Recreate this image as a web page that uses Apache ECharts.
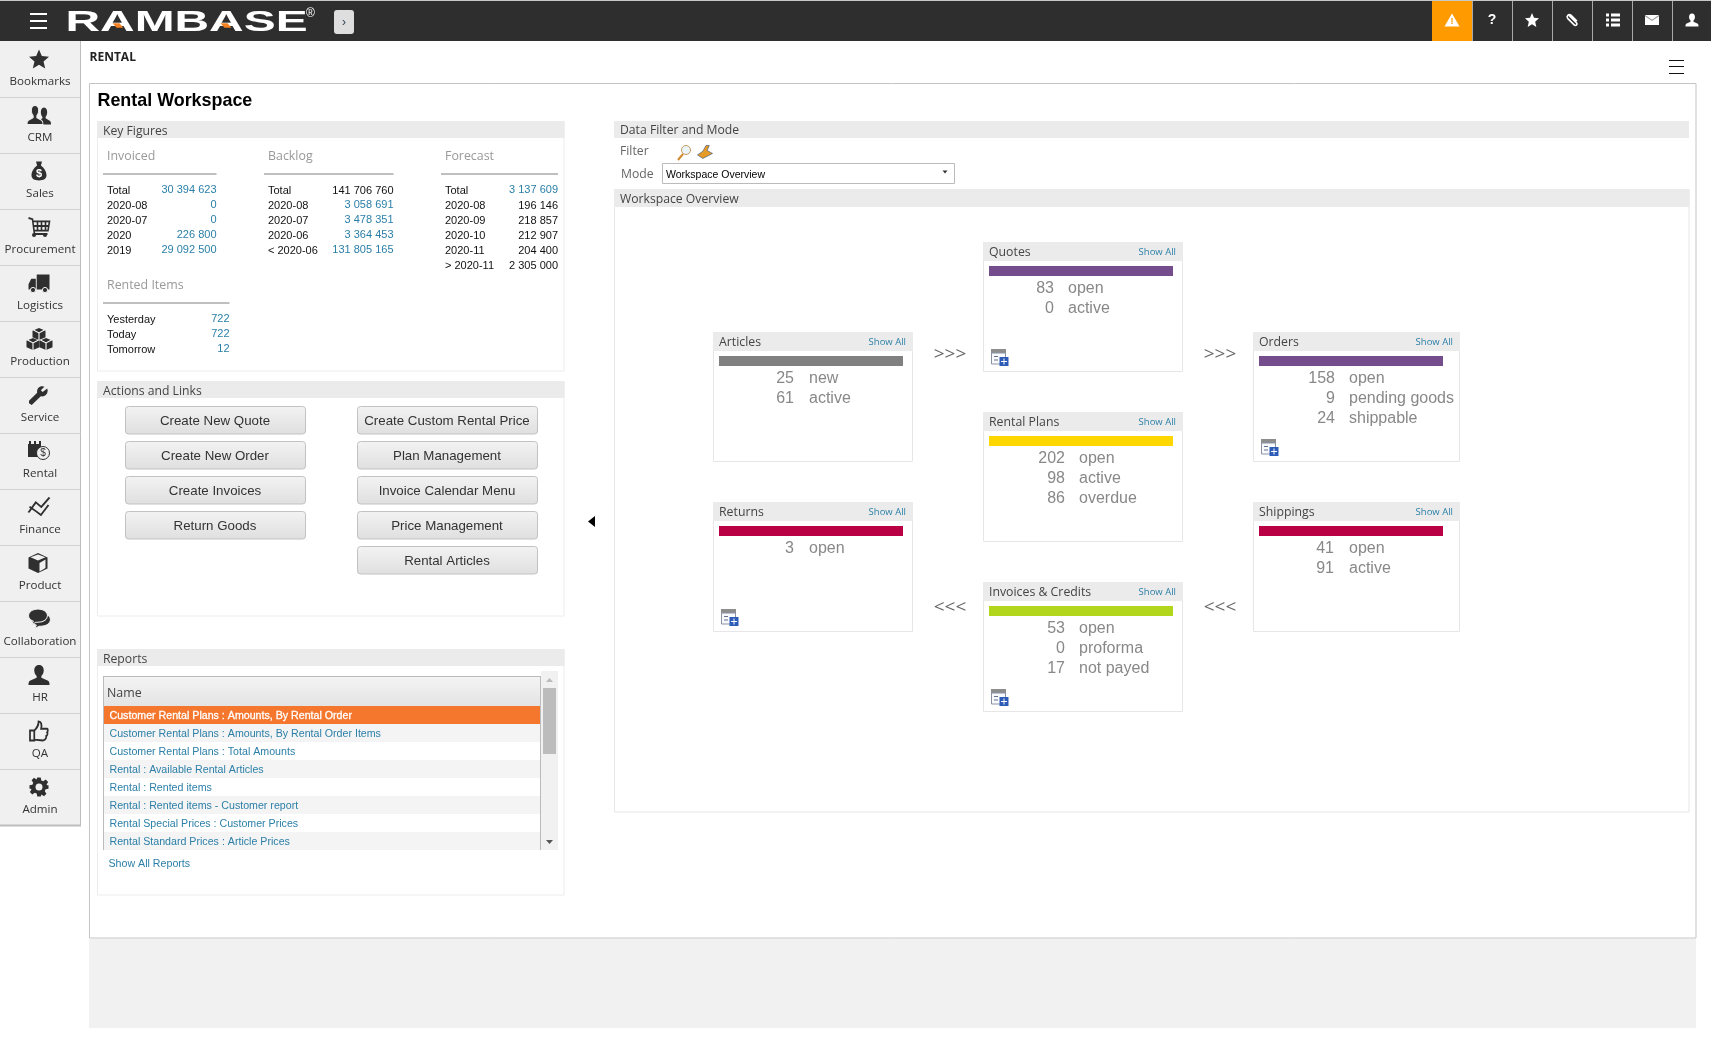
<!DOCTYPE html>
<html>
<head>
<meta charset="utf-8">
<title>Rental Workspace</title>
<script src="https://cdn.jsdelivr.net/npm/echarts@6/dist/echarts.min.js"></script>
<style>
html, body { margin: 0; padding: 0; background: #fff; }
#main { width: 1711px; height: 1056px; }
</style>
</head>
<body>
<div id="main"></div>
<script>
// key figures
const invoicedLabels = ['Total', '2020-08', '2020-07', '2020', '2019'];
const invoicedValues = ['30 394 623', '0', '0', '226 800', '29 092 500'];
const backlogLabels = ['Total', '2020-08', '2020-07', '2020-06', '< 2020-06'];
const backlogValues = ['141 706 760', '3 058 691', '3 478 351', '3 364 453', '131 805 165'];
const forecastLabels = ['Total', '2020-08', '2020-09', '2020-10', '2020-11', '> 2020-11'];
const forecastValues = ['3 137 609', '196 146', '218 857', '212 907', '204 400', '2 305 000'];
const rentedLabels = ['Yesterday', 'Today', 'Tomorrow'];
const rentedValues = ['722', '722', '12'];

// menus
const sidebarItems = ['Bookmarks', 'CRM', 'Sales', 'Procurement', 'Logistics', 'Production', 'Service',
	'Rental', 'Finance', 'Product', 'Collaboration', 'HR', 'QA', 'Admin'];
const actionsLeft = ['Create New Quote', 'Create New Order', 'Create Invoices', 'Return Goods'];
const actionsRight = ['Create Custom Rental Price', 'Plan Management', 'Invoice Calendar Menu', 'Price Management', 'Rental Articles'];
const reportNames = ['Customer Rental Plans : Amounts, By Rental Order', 'Customer Rental Plans : Amounts, By Rental Order Items',
	'Customer Rental Plans : Total Amounts', 'Rental : Available Rental Articles', 'Rental : Rented items',
	'Rental : Rented items - Customer report', 'Rental Special Prices : Customer Prices', 'Rental Standard Prices : Article Prices'];

// workspace overview cards
const cardNames = ['Articles', 'Quotes', 'Orders', 'Rental Plans', 'Returns', 'Shippings', 'Invoices & Credits'];
const cardFill = [1, 1, 1, 1, 1, 1, 1];
const articlesCounts = [25, 61];
const articlesStates = ['new', 'active'];
const quotesCounts = [83, 0];
const quotesStates = ['open', 'active'];
const ordersCounts = [158, 9, 24];
const ordersStates = ['open', 'pending goods', 'shippable'];
const plansCounts = [202, 98, 86];
const plansStates = ['open', 'active', 'overdue'];
const returnsCounts = [3];
const returnsStates = ['open'];
const shippingsCounts = [41, 91];
const shippingsStates = ['open', 'active'];
const invoicesCounts = [53, 0, 17];
const invoicesStates = ['open', 'proforma', 'not payed'];

const LINK = '#2b7fa8';
const SANS = '"Open Sans"';
const ARIAL = '"Liberation Sans"';

const els = [];
const shapeNames = {};

function box(x, y, w, h, fill, stroke, r) {
	els.push({ type: 'rect', silent: true, shape: { x: x, y: y, width: w, height: h, r: r || 0 },
		style: { fill: fill || 'none', stroke: stroke || null, lineWidth: 1 } });
}
function label(x, y, text, font, fill, align) {
	els.push({ type: 'text', silent: true, x: x, y: y + 1.2,
		style: { text: text, font: font, fill: fill, align: align || 'left', verticalAlign: 'middle' } });
}
function line(x1, y1, x2, y2, color, w) {
	els.push({ type: 'line', silent: true, shape: { x1: x1, y1: y1, x2: x2, y2: y2 },
		style: { stroke: color, lineWidth: w || 1 } });
}
// the graphic component has no path type, so each icon outline is registered as a shape
function glyph(path, cx, cy, w, h, fill, stroke, lw) {
	if (!shapeNames[path]) {
		shapeNames[path] = 'icon' + Object.keys(shapeNames).length;
		echarts.graphic.registerShape(shapeNames[path], echarts.graphic.extendPath(path, {}));
	}
	const nums = path.match(/-?[\d.]+/g).map(Number);
	const xs = nums.filter(function (n, i) { return i % 2 === 0; });
	const ys = nums.filter(function (n, i) { return i % 2 === 1; });
	const minX = Math.min.apply(null, xs), minY = Math.min.apply(null, ys);
	const sx = w / (Math.max.apply(null, xs) - minX);
	const sy = h / (Math.max.apply(null, ys) - minY);
	els.push({ type: shapeNames[path], silent: true, x: cx - w / 2 - minX * sx, y: cy - h / 2 - minY * sy, scaleX: sx, scaleY: sy,
		style: { fill: fill || 'none', stroke: stroke || null, lineWidth: lw || 1, strokeNoScale: true } });
}
function dot(cx, cy, r, fill, stroke) {
	els.push({ type: 'circle', silent: true, shape: { cx: cx, cy: cy, r: r },
		style: { fill: fill, stroke: stroke || null, lineWidth: 1 } });
}

const STAR = 'M12 1 L15.1 8.3 L23 9 L17 14.2 L18.8 22 L12 17.9 L5.2 22 L7 14.2 L1 9 L8.9 8.3 Z';
const PERSON = 'M12 1 C15.5 1 17 4 17 7 C17 10 15.5 12 14.5 13 L14.5 15 L21 18 C23 19 23 21 23 23 L1 23 C1 21 1 19 3 18 L9.5 15 L9.5 13 C8.5 12 7 10 7 7 C7 4 8.5 1 12 1 Z';
const BAG = 'M8 1 L16 1 L14.5 5.5 C19 8 22 13 22 17 C22 21 18 23 12 23 C6 23 2 21 2 17 C2 13 5 8 9.5 5.5 Z';
const GEAR = 'M10 1 L14 1 L14.7 4.4 L16.9 5.3 L19.8 3.4 L22.6 6.2 L20.7 9.1 L21.6 10 L23 10 L23 14 L19.6 14.7 L18.7 16.9 L20.6 19.8 L17.8 22.6 L14.9 20.7 L14 23 L10 23 L9.3 19.6 L7.1 18.7 L4.2 20.6 L1.4 17.8 L3.3 14.9 L2.4 14 L1 14 L1 10 L4.4 9.3 L5.3 7.1 L3.4 4.2 L6.2 1.4 L9.1 3.3 Z';
const HEX = 'M12 1 L22 6 L22 18 L12 23 L2 18 L2 6 Z';
const THUMB = 'M2 11 L7 11 L7 22 L2 22 Z M7 11 C10 8 12 6 12 1 C15 1 16 4 15 9 L22 9 C23 9 23 12 22 13 C23 14 22 17 21 17 C21 19 20 21 19 21 C19 22 18 22 17 22 L7 21';
const BUBBLE = 'M10 2 C16 2 20 5 20 9 C20 13 16 16 10 16 L8 16 L3 19 L5 15 C2 14 0 12 0 9 C0 5 4 2 10 2 Z';
const WRENCH = 'M21 4 L16 8 L14 6 L18 2 C14 0 9 3 10 9 L1 18 L1 21 L4 23 L14 13 C19 14 23 9 21 4 Z';
const CUBE_EDGES = 'M2 6 L12 11 L22 6 M12 11 L12 23';
const LOGO_WEDGE = 'M0 0 L7 0 L11 5 L4 5 Z';

function sidebarIcon(i, cx, cy) {
	const dark = '#2f2f2f';
	switch (sidebarItems[i]) {
		case 'Bookmarks': glyph(STAR, cx, cy, 20, 19, dark); break;
		case 'CRM':
			glyph(PERSON, cx + 5, cy + 1, 14, 17, dark);
			glyph(PERSON, cx - 4, cy, 16, 19, dark, '#f0f0f0', 1);
			break;
		case 'Sales':
			glyph(BAG, cx, cy, 15, 19, dark);
			label(cx, cy + 1.5, '$', 'bold 11px ' + ARIAL, '#fff', 'center');
			break;
		case 'Procurement':
			glyph('M1 2 L5 3 L7 16 L20 16 M6 5 L22 5 L20.5 13 L7 13 M10 5 L10 13 M14 5 L14 13 M18 5 L18 13 M6.5 9 L21.5 9', cx, cy - 1, 21, 16, 'none', dark, 1.6);
			dot(cx - 5, cy + 8, 2, dark);
			dot(cx + 6, cy + 8, 2, dark);
			break;
		case 'Logistics':
			glyph('M9 3 L23 3 L23 17 L9 17 Z M8 7 L3 7 L0 12 L0 17 L8 17 Z', cx, cy - 1, 21, 15, dark);
			dot(cx - 6, cy + 7, 2.6, dark, '#f0f0f0');
			dot(cx + 6, cy + 7, 2.6, dark, '#f0f0f0');
			break;
		case 'Production':
			glyph(HEX, cx, cy - 5, 13, 12, dark);
			glyph(HEX, cx - 6, cy + 5, 13, 12, dark);
			glyph(HEX, cx + 7, cy + 5, 13, 12, dark);
			glyph(CUBE_EDGES, cx, cy - 4, 11, 10, 'none', '#fff', 1.1);
			glyph(CUBE_EDGES, cx - 6, cy + 6, 11, 10, 'none', '#fff', 1.1);
			glyph(CUBE_EDGES, cx + 7, cy + 6, 11, 10, 'none', '#fff', 1.1);
			break;
		case 'Service': glyph(WRENCH, cx, cy, 20, 20, dark); break;
		case 'Rental':
			box(cx - 11, cy - 7, 13, 13, dark);
			box(cx - 10, cy - 10, 2, 3, dark);
			box(cx - 5, cy - 10, 2, 3, dark);
			box(cx, cy - 10, 2, 3, dark);
			dot(cx + 4, cy + 2, 6.5, '#f0f0f0', dark);
			label(cx + 4, cy + 1.5, '$', '10px ' + ARIAL, dark, 'center');
			break;
		case 'Finance':
			glyph('M0 23 L8 8 L14 15 L23 1', cx, cy - 2, 21, 15, 'none', dark, 1.8);
			glyph('M3 12 L10 17 L15 21 L23 10', cx, cy + 3, 19, 10, 'none', dark, 1.8);
			break;
		case 'Product':
			glyph(HEX, cx - 1, cy, 19, 20, dark);
			glyph('M2 6 L12 11 L22 6 L12 2 Z', cx - 1, cy - 5.5, 15, 6, '#f0f0f0');
			glyph('M12 11 L22 6 L22 18 L12 23 Z', cx + 3.5, cy + 2.5, 6, 12, '#f0f0f0');
			break;
		case 'Collaboration':
			glyph(BUBBLE, cx + 2, cy + 2, 19, 16, dark, '#f0f0f0', 1);
			glyph(BUBBLE, cx - 1, cy - 2, 19, 16, dark, '#f0f0f0', 1);
			break;
		case 'HR': glyph(PERSON, cx, cy, 21, 20, dark); break;
		case 'QA': glyph(THUMB, cx, cy, 18, 19, 'none', dark, 1.8); break;
		case 'Admin':
			glyph(GEAR, cx, cy, 19, 19, dark);
			dot(cx, cy, 3.5, '#f0f0f0');
			break;
	}
}

function docIcon(x, y) {
	box(x, y, 15, 4, '#8d8d8d');
	box(x + 0.5, y + 4, 14, 11, '#f7f9fc', '#8a93a5');
	line(x + 3, y + 7.5, x + 7, y + 7.5, '#66708a');
	line(x + 3, y + 11, x + 7, y + 11, '#66708a');
	box(x + 8.5, y + 8, 9, 9, '#2c5cb8');
	line(x + 13, y + 9.5, x + 13, y + 15.5, '#fff');
	line(x + 10, y + 12.5, x + 16, y + 12.5, '#fff');
}

function panelHead(x, y, w, text, bottom) {
	box(x + 0.5, y + 0.5, w, bottom - y, '#fff', '#ececec');
	box(x, y, w + 1, 17, '#ebebeb');
	label(x + 6, y + 9, text, '12.2px ' + SANS, '#444');
}

function figures(title, labels, values, linkRow, left, titleX, right, top) {
	label(titleX, top, title, '12.4px ' + SANS, '#999');
	line(left, top + 19, right, top + 19, '#aaa', 1.4);
	labels.forEach(function (t, i) {
		const y = top + 35 + i * 15;
		label(titleX, y, t, '11px ' + ARIAL, '#111');
		if (linkRow(i)) label(right, y - 1, values[i], '11px ' + ARIAL, LINK, 'right');
		else label(right, y, values[i], '11px ' + ARIAL, '#111', 'right');
	});
}

// page chrome
box(0, 0, 1711, 41, '#2e2e2e');
box(0, 0, 1711, 1, '#c8c8c8');
[14, 21, 28].forEach(function (y) { line(30, y, 47, y, '#fff', 2); });
els.push({ type: 'text', silent: true, x: 65.5, y: 22.5, scaleX: 1.71, scaleY: 1.05,
	style: { text: 'RAMBASE', font: 'bold 28px ' + ARIAL, fill: '#fff', align: 'left', verticalAlign: 'middle' } });
glyph(LOGO_WEDGE, 118, 25.5, 10.6, 4.4, '#f58220');
glyph(LOGO_WEDGE, 226, 25.5, 11, 4.4, '#f58220');
label(306, 12, '®', '12px ' + ARIAL, '#fff');
box(334, 10, 20, 24, '#dedede', null, 3);
label(344, 21, '›', '12px ' + ARIAL, '#345', 'center');

box(1432, 1, 40, 40, '#ff9a00');
[1472, 1512, 1552, 1592, 1632, 1672].forEach(function (x) { line(x + 0.5, 1, x + 0.5, 41, '#a9a9a9'); });
glyph('M12 2 L23 22 L1 22 Z', 1452, 20, 15, 13, '#fff');
label(1452, 20, '!', 'bold 9px ' + ARIAL, '#ff9a00', 'center');
label(1492, 19, '?', 'bold 14px ' + ARIAL, '#fff', 'center');
glyph(STAR, 1532, 20, 14, 14, '#fff');
glyph('M6 4 L19 17 C22 20 18 24 15 21 L3 9 C0 5 5 0 9 3 L20 14', 1572, 20, 12, 13, 'none', '#fff', 1.6);
[15, 20, 25].forEach(function (y) {
	box(1606, y - 1.5, 3, 3, '#fff');
	box(1611, y - 1.5, 9, 3, '#fff');
});
box(1645, 15, 14, 10, '#fff');
glyph('M0 0 L12 8 L24 0', 1652, 18, 14, 5, 'none', '#999', 1);
glyph(PERSON, 1692, 20, 13, 13, '#fff');

// sidebar
box(0, 41, 80, 784, '#f0f0f0');
sidebarItems.forEach(function (name, i) {
	const top = 41 + i * 56;
	if (i > 0) line(0, top + 0.5, 80, top + 0.5, '#d2d2d2');
	sidebarIcon(i, 39, top + 18);
	label(40, top + 39, name, '11.6px ' + SANS, '#333', 'center');
});
line(80.5, 41, 80.5, 826, '#bdbdbd');
line(0, 825.5, 81, 825.5, '#bdbdbd', 2);

// main frame
label(89.5, 56, 'RENTAL', 'bold 12px ' + SANS, '#222');
[60.5, 66.5, 73.5].forEach(function (y) { line(1669, y, 1684, y, '#111'); });
box(89.5, 83.5, 1606.5, 854.5, '#fff', '#c4c4c4');
box(89, 939, 1607, 89, '#f1f1f1');
label(97.5, 100, 'Rental Workspace', 'bold 17.9px ' + ARIAL, '#000');

// key figures
panelHead(97, 121, 466.5, 'Key Figures', 370.5);
figures('Invoiced', invoicedLabels, invoicedValues, function () { return true; }, 103, 107, 216.5, 155);
figures('Backlog', backlogLabels, backlogValues, function (i) { return i > 0; }, 264, 268, 393.5, 155);
figures('Forecast', forecastLabels, forecastValues, function (i) { return i === 0; }, 441, 445, 558, 155);
figures('Rented Items', rentedLabels, rentedValues, function () { return true; }, 103, 107, 229.5, 284);

// actions
panelHead(97, 381, 466.5, 'Actions and Links', 615.5);
function button(x, y, text) {
	els.push({ type: 'rect', silent: true, shape: { x: x + 0.5, y: y + 0.5, width: 180, height: 27.5, r: 3 },
		style: { stroke: '#c2c2c2', lineWidth: 1,
			fill: new echarts.graphic.LinearGradient(0, 0, 0, 1, [{ offset: 0, color: '#f3f3f3' }, { offset: 1, color: '#dfdfdf' }]) } });
	label(x + 90, y + 14, text, '13.3px ' + ARIAL, '#333', 'center');
}
actionsLeft.forEach(function (t, i) { button(125, 406 + i * 35, t); });
actionsRight.forEach(function (t, i) { button(357, 406 + i * 35, t); });

// reports
panelHead(97, 649, 466.5, 'Reports', 894.5);
els.push({ type: 'rect', silent: true, shape: { x: 103.5, y: 676.5, width: 437, height: 30 },
	style: { fill: new echarts.graphic.LinearGradient(0, 0, 0, 1, [{ offset: 0, color: '#f4f4f4' }, { offset: 1, color: '#e3e3e3' }]), stroke: null } });
line(103.5, 676.5, 540.5, 676.5, '#bbb');
line(103.5, 676, 103.5, 850, '#bbb');
line(540.5, 676, 540.5, 850, '#bbb');
label(107, 692.5, 'Name', '12.4px ' + SANS, '#444');
reportNames.forEach(function (name, i) {
	const y = 706 + i * 18;
	box(104, y, 436, 18, i === 0 ? '#f5762d' : (i % 2 ? '#f4f4f4' : '#fff'));
	if (i === 0) {
		els.push({ type: 'text', silent: true, x: 109.5, y: y + 10,
			style: { text: name, font: '10.65px ' + ARIAL, fill: '#fff', stroke: '#fff', lineWidth: 0.3, align: 'left', verticalAlign: 'middle' } });
	} else {
		label(109.5, y + 8.8, name, '10.65px ' + ARIAL, LINK);
	}
});
box(541, 671, 17, 179, '#f1f1f1');
box(543, 688, 13, 66, '#bcbcbc');
glyph('M12 0 L24 12 L0 12 Z', 549.5, 680, 7, 4, '#bbb');
glyph('M0 0 L24 0 L12 12 Z', 549.5, 842, 7, 4, '#555');
label(108.5, 863, 'Show All Reports', '10.65px ' + ARIAL, LINK);

// collapse handle
glyph('M16 0 L16 24 L0 12 Z', 591.5, 521.5, 7, 11, '#000');

// data filter
box(614, 121, 1075, 17, '#ebebeb');
label(620, 129.5, 'Data Filter and Mode', '12.2px ' + SANS, '#444');
label(620, 150.5, 'Filter', '12.2px ' + SANS, '#666');
dot(686, 150, 4.5, '#eaf4fb', '#c99a5b');
line(683, 154, 678, 160, '#d08a2e', 2);
glyph('M8 0 L11 0 L9 7 L14 11 L5 18 L0 13 L5 8 Z', 705, 152, 15, 13, '#e69a28', '#35507a', 0.6);
label(621, 173, 'Mode', '12.2px ' + SANS, '#666');
box(662.5, 163.5, 292, 20, '#fff', '#bbb');
label(666, 173.5, 'Workspace Overview', '10.5px ' + ARIAL, '#000');
glyph('M0 0 L24 0 L12 14 Z', 945, 172, 5, 3, '#333');

box(614.5, 189.5, 1074.5, 622.5, '#fff', '#e6e6e6');
box(614, 189, 1075.5, 18, '#ebebeb');
label(620, 198, 'Workspace Overview', '12.2px ' + SANS, '#444');

// cards, the coloured status bars are drawn as bar series further down
const cardCounts = [articlesCounts, quotesCounts, ordersCounts, plansCounts, returnsCounts, shippingsCounts, invoicesCounts];
const cardStates = [articlesStates, quotesStates, ordersStates, plansStates, returnsStates, shippingsStates, invoicesStates];
const cardColors = ['#808080', '#764d8c', '#764d8c', '#ffd700', '#b90044', '#b90044', '#b2d61b'];
const cardBoxes = [
	{ x: 713, y: 332, w: 199, valueX: 794, stateX: 809, icon: false },
	{ x: 983, y: 242, w: 199, valueX: 1054, stateX: 1068, icon: true },
	{ x: 1253, y: 332, w: 206, valueX: 1335, stateX: 1349, icon: true },
	{ x: 983, y: 412, w: 199, valueX: 1065, stateX: 1079, icon: false },
	{ x: 713, y: 502, w: 199, valueX: 794, stateX: 809, icon: true },
	{ x: 1253, y: 502, w: 206, valueX: 1334, stateX: 1349, icon: false },
	{ x: 983, y: 582, w: 199, valueX: 1065, stateX: 1079, icon: true }
];
cardNames.forEach(function (name, i) {
	const b = cardBoxes[i];
	box(b.x + 0.5, b.y + 0.5, b.w, 129, '#fff', '#e6e6e6');
	box(b.x, b.y, b.w + 1, 19, '#ebebeb');
	label(b.x + 6, b.y + 9.5, name, '12.3px ' + SANS, '#444');
	label(b.x + b.w - 6, b.y + 9.5, 'Show All', '9.5px ' + SANS, LINK, 'right');
	cardCounts[i].forEach(function (n, k) {
		const y = b.y + 45.5 + k * 20;
		label(b.valueX, y, String(n), '16px ' + ARIAL, '#888', 'right');
		label(b.stateX, y, cardStates[i][k], '16px ' + ARIAL, '#888');
	});
	if (b.icon) docIcon(b.x + 8, b.y + 107);
});

// flow arrows
[[950, 353, '>>>'], [1220, 353, '>>>'], [950, 606, '<<<'], [1220, 606, '<<<']].forEach(function (a) {
	label(a[0], a[1], a[2], '19px ' + SANS, '#666', 'center');
});

const grids = [], xAxes = [], yAxes = [], bars = [];
cardNames.forEach(function (name, i) {
	const b = cardBoxes[i];
	grids.push({ left: b.x + 6, top: b.y + 24, width: 184, height: 10 });
	xAxes.push({ type: 'value', gridIndex: i, min: 0, max: 1, show: false });
	yAxes.push({ type: 'category', gridIndex: i, data: [name], show: false });
	bars.push({ type: 'bar', name: name, xAxisIndex: i, yAxisIndex: i, barWidth: '100%', silent: true,
		data: [cardFill[i]], itemStyle: { color: cardColors[i] } });
});

const myChart = echarts.init(document.getElementById('main'));
myChart.setOption({
	animation: false,
	backgroundColor: '#fff',
	tooltip: { show: false },
	grid: grids,
	xAxis: xAxes,
	yAxis: yAxes,
	series: bars,
	graphic: { elements: els }
});
</script>
</body>
</html>
